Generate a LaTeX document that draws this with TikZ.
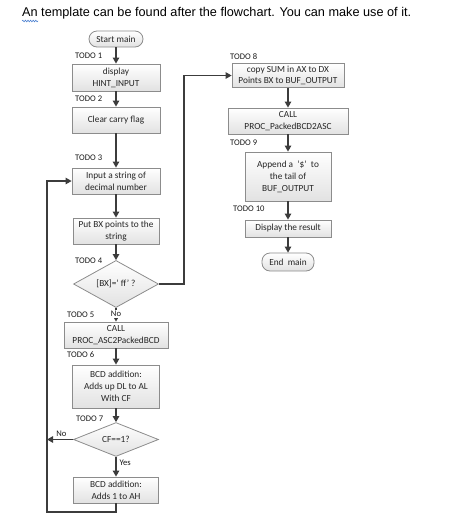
\documentclass[tikz,border=0pt]{standalone}
\usepackage{fontspec}
\setmainfont{Carlito}
\newfontfamily\titlefont{Liberation Sans}
\usetikzlibrary{shapes.geometric,arrows.meta,decorations.pathmorphing}
\definecolor{boxborder}{HTML}{8C8C8C}
\definecolor{boxfill}{HTML}{E2E2E2}
\definecolor{lin}{HTML}{3C3C3C}
\definecolor{spell}{HTML}{4A7FD0}
\begin{document}
\begin{tikzpicture}[x=1pt,y=-1pt,
  procbox/.style={draw=boxborder, line width=0.8pt, top color=white, bottom color=boxfill,
    inner sep=1pt, align=center, font=\fontsize{9.3}{12.2}\selectfont, text=black!85},
  termbox/.style={procbox, rounded corners=8pt},
  decbox/.style={procbox, diamond, inner sep=0pt},
  todo/.style={anchor=west, font=\fontsize{8.6}{10}\selectfont, inner sep=0pt, text=black!90},
  lbl/.style={font=\fontsize{8.6}{10}\selectfont, inner sep=1pt, text=black!90},
  flow/.style={draw=lin, line width=1.1pt, -{Triangle[length=6pt,width=6.5pt]}}]
\useasboundingbox (0,0) rectangle (474,531);

% title
\node[anchor=base west, inner sep=0pt, font=\titlefont\fontsize{12.7}{15}\selectfont] (title) at (22,16)
  {An template can be found after the flowchart. You can make use of it.};
\draw[spell, line width=0.6pt, decorate, decoration={snake, amplitude=0.8pt, segment length=2.6pt}]
  (22,21) -- (38,21);

% left column
\node[termbox, minimum width=54pt, minimum height=16pt] (start) at (116,39) {Start main};
\node[procbox, minimum width=88pt, minimum height=27pt] (display) at (116,77.5) {display\\HINT\_INPUT};
\node[procbox, minimum width=88pt, minimum height=26pt] (clear) at (116,120) {Clear carry flag};
\node[procbox, minimum width=88pt, minimum height=26pt] (input) at (116,181) {Input a string of\\decimal number};
\node[procbox, minimum width=86pt, minimum height=26pt] (putbx) at (116,231) {Put BX points to the\\string};
\node[decbox, minimum width=85pt, minimum height=26pt] (d1) at (116,284) {[BX]=’ ff’ ?};
\node[procbox, minimum width=104pt, minimum height=26pt] (call1) at (116,335) {CALL\\PROC\_ASC2PackedBCD};
\node[procbox, minimum width=87pt, minimum height=43pt] (bcd1) at (116,386.5) {BCD addition:\\Adds up DL to AL\\With CF};
\node[decbox, minimum width=85pt, minimum height=27pt] (d2) at (116,439.5) {CF==1?};
\node[procbox, minimum width=85pt, minimum height=26pt] (bcd2) at (116,490) {BCD addition:\\Adds 1 to AH};

% right column
\node[procbox, font=\fontsize{9.3}{11}\selectfont, minimum width=112pt, minimum height=24pt] (copy) at (288,75.5) {copy SUM in AX to DX\\Points BX to BUF\_OUTPUT};
\node[procbox, minimum width=120pt, minimum height=26pt] (call2) at (288,121) {CALL\\PROC\_PackedBCD2ASC};
\node[procbox, minimum width=86pt, minimum height=49pt] (append) at (288,176.5) {Append a \ ‘\$’ \ to\\the tail of\\BUF\_OUTPUT};
\node[procbox, minimum width=86pt, minimum height=17pt] (disp) at (288,228.5) {Display the result};
\node[termbox, minimum width=52pt, minimum height=18pt] (endm) at (288,262) {End \ main};

% TODO labels
\node[todo] (t1) at (75,56) {TODO 1};
\node[todo] (t2) at (75,99) {TODO 2};
\node[todo] (t3) at (75,158) {TODO 3};
\node[todo] (t4) at (75,261) {TODO 4};
\node[todo] (t5) at (67,315) {TODO 5};
\node[todo] (t6) at (67,355) {TODO 6};
\node[todo] (t7) at (76,419) {TODO 7};
\node[todo] (t8) at (230,57) {TODO 8};
\node[todo] (t9) at (230,143) {TODO 9};
\node[todo] (t10) at (233,209) {TODO 10};

% helper coordinates
\coordinate (lb) at (47,512);
\coordinate (up) at (184,0);

% connectors left
\draw[flow] (start) -- (display);
\draw[flow] (display) -- (clear);
\draw[flow] (clear) -- (input);
\draw[flow] (input) -- (putbx);
\draw[flow] (putbx) -- (d1);
\draw[flow] (d1) -- node[lbl, fill=white, pos=0.45] (no1) {No} (call1);
\draw[flow] (call1) -- (bcd1);
\draw[flow] (bcd1) -- (d2);
\draw[flow] (d2) -- node[lbl, right, pos=0.3, xshift=2pt] (yes) {Yes} (bcd2);
\draw[flow] (bcd2.south) |- (lb) |- (input.west);
\draw[flow] (d2.west) -- node[lbl, above, pos=0.45, yshift=1pt] (no2) {No} (d2.west -| lb);

% connectors right
\draw[flow] (d1.east) -| (up |- copy.west) -- (copy.west);
\draw[flow] (copy) -- (call2);
\draw[flow] (call2) -- (append);
\draw[flow] (append) -- (disp);
\draw[flow] (disp) -- (endm);
\end{tikzpicture}
\end{document}
